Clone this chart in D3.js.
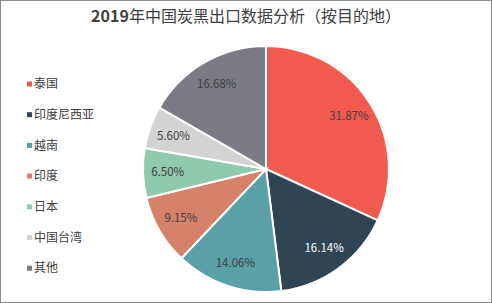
<!DOCTYPE html>
<html>
<head>
<meta charset="utf-8">
<script src="https://cdn.jsdelivr.net/npm/d3@7"></script>
<style>
  body { margin: 0; background: #fff; }
  svg { display: block; font-family: "Noto Sans CJK SC", "Microsoft YaHei", sans-serif; }
</style>
</head>
<body>
<svg id="chart"></svg>
<script>
// données
const categories = ["泰国", "印度尼西亚", "越南", "印度", "日本", "中国台湾", "其他"];
const shares = [31.87, 16.14, 14.06, 9.15, 6.50, 5.60, 16.68];
const colors = ["#F15A4E", "#2F4554", "#5B9FA8", "#D6816A", "#8FC9AE", "#D3D3D3", "#7A7B84"];
const titleYear = "2019";
const titleRest = "年中国炭黑出口数据分析（按目的地）";

const width = 492, height = 303;
const cx = 266, cy = 169, radius = 123;

const data = categories.map((c, i) => ({ name: c, value: shares[i] }));

const svg = d3.select("#chart")
  .attr("width", width)
  .attr("height", height);

// cadre
svg.append("rect")
  .attr("x", 0.5).attr("y", 0.5)
  .attr("width", width - 1).attr("height", height - 1)
  .attr("fill", "#fff")
  .attr("stroke", "#8a8a8a");

// titre
const title = svg.append("text")
  .attr("x", 246)
  .attr("y", 22)
  .attr("text-anchor", "middle")
  .attr("fill", "#404040")
  .style("font-size", "16px");
title.append("tspan").attr("font-weight", "bold").text(titleYear);
title.append("tspan").text(titleRest);

const color = d3.scaleOrdinal().domain(categories).range(colors);

const pie = d3.pie().sort(null).value(d => d.value);
const arc = d3.arc().innerRadius(0).outerRadius(radius);
const labelArc = d3.arc().innerRadius(radius * 0.8).outerRadius(radius * 0.8);

const g = svg.append("g").attr("transform", `translate(${cx},${cy})`);

const arcs = pie(data);

g.selectAll("path")
  .data(arcs)
  .join("path")
    .attr("d", arc)
    .attr("fill", d => color(d.data.name))
    .attr("stroke", "#fff")
    .attr("stroke-width", 2);

g.selectAll("text")
  .data(arcs)
  .join("text")
    .attr("transform", d => `translate(${labelArc.centroid(d)})`)
    .attr("text-anchor", "middle")
    .attr("dy", "0.35em")
    .attr("fill", d => d.data.name === "印度尼西亚" ? "#fff" : "#404040")
    .style("font-size", "11.5px")
    .text(d => d.data.value.toFixed(2) + "%");

// légende
const legend = svg.append("g")
  .selectAll("g")
  .data(categories)
  .join("g")
    .attr("transform", (d, i) => `translate(27,${84 + i * 30.7})`);

legend.append("rect")
  .attr("x", 0).attr("y", -2.5)
  .attr("width", 5).attr("height", 5)
  .attr("fill", color);

legend.append("text")
  .attr("x", 7)
  .attr("dy", "0.35em")
  .attr("fill", "#404040")
  .style("font-size", "12px")
  .text(d => d);
</script>
</body>
</html>
